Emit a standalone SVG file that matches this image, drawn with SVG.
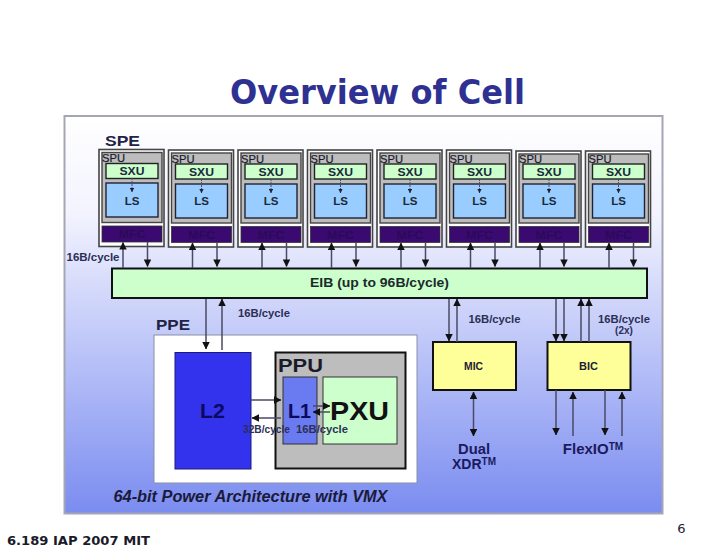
<svg xmlns="http://www.w3.org/2000/svg" width="728" height="546" viewBox="0 0 728 546">
<style>
text{font-family:"Liberation Sans",Arial,sans-serif;font-weight:bold;text-anchor:middle}
.t{font-size:10px;fill:#2b2f55}
.spu-t{font-size:10.5px;font-weight:normal;fill:#1a1a2a;stroke:#1a1a2a;stroke-width:.2px;text-anchor:start}
.n{font-size:11.5px;fill:#1a2a3a}
.m{font-size:10.5px;fill:#2a0a58}
.spe{fill:#fff;stroke:#444;stroke-width:1.6}
.spu{fill:#bdbdbd;stroke:#444;stroke-width:1.4}
.sxu{fill:#ccffcc;stroke:#222;stroke-width:1.4}
.ls{fill:#99ccff;stroke:#223;stroke-width:1.4}
.mfc{fill:#3a0a70;stroke:#333;stroke-width:.8}
.c line{stroke:#4a4a66;stroke-width:1.5;fill:none}
.a line{marker-end:url(#h)}
.a line.d{stroke-dasharray:2 1;stroke-width:1;marker-end:url(#s)}
</style>
<defs>
<linearGradient id="g" x1="0" y1="0" x2="0" y2="1"><stop offset="0" stop-color="#fff"/><stop offset=".25" stop-color="#f2f3fe"/><stop offset="1" stop-color="#7a8cf0"/></linearGradient>
<marker id="h" viewBox="0 0 8 8" refX="7.500" refY="4" markerWidth="7.500" markerHeight="7.500" markerUnits="userSpaceOnUse" orient="auto-start-reverse"><path d="M0 0L8 4L0 8z" fill="#111"/></marker>
<marker id="s" viewBox="0 0 8 8" refX="7.500" refY="4" markerWidth="4.500" markerHeight="4.500" markerUnits="userSpaceOnUse" orient="auto"><path d="M0 0L8 4L0 8z" fill="#223"/></marker>
</defs>
<rect width="728" height="546" fill="#fff"/>
<text x="377.500" y="103.500" font-size="34" fill="#2e3192" textLength="295" lengthAdjust="spacingAndGlyphs" style="font-family:'DejaVu Sans',sans-serif">Overview of Cell</text>
<rect id="panel" x="64.500" y="116" width="598" height="397.500" fill="url(#g)" stroke="#a4a6b6" stroke-width="2"/>
<g id="spe1"><rect class="spe" x="99" y="149.500" width="65" height="97"/><rect class="spu" x="102" y="152.500" width="60" height="70"/><rect class="sxu" x="106" y="163.500" width="52" height="15"/><rect class="ls" x="106" y="183" width="52" height="34"/><rect class="mfc" x="102" y="226" width="60" height="16"/><text class="spu-t" x="102" y="162" textLength="23" lengthAdjust="spacingAndGlyphs">SPU</text><text class="n" x="132" y="175" textLength="25" lengthAdjust="spacingAndGlyphs">SXU</text><text class="n" x="132" y="204.500">LS</text><text class="m" x="132" y="238" textLength="27" lengthAdjust="spacingAndGlyphs">MFC</text></g>
<g id="spe2"><rect class="spe" x="168.500" y="150" width="65" height="97"/><rect class="spu" x="171.500" y="153" width="60" height="70"/><rect class="sxu" x="175.500" y="164" width="52" height="15"/><rect class="ls" x="175.500" y="184" width="52" height="34"/><rect class="mfc" x="171.500" y="226.500" width="60" height="16"/><text class="spu-t" x="171.500" y="162.500" textLength="23" lengthAdjust="spacingAndGlyphs">SPU</text><text class="n" x="201.500" y="175.500" textLength="25" lengthAdjust="spacingAndGlyphs">SXU</text><text class="n" x="201.500" y="205">LS</text><text class="m" x="201.500" y="238.500" textLength="27" lengthAdjust="spacingAndGlyphs">MFC</text></g>
<g id="spe3"><rect class="spe" x="238" y="150" width="65" height="97"/><rect class="spu" x="241" y="153" width="60" height="70"/><rect class="sxu" x="245" y="164" width="52" height="15"/><rect class="ls" x="245" y="184" width="52" height="34"/><rect class="mfc" x="241" y="226.500" width="60" height="16"/><text class="spu-t" x="241" y="162.500" textLength="23" lengthAdjust="spacingAndGlyphs">SPU</text><text class="n" x="271" y="175.500" textLength="25" lengthAdjust="spacingAndGlyphs">SXU</text><text class="n" x="271" y="205">LS</text><text class="m" x="271" y="238.500" textLength="27" lengthAdjust="spacingAndGlyphs">MFC</text></g>
<g id="spe4"><rect class="spe" x="307.500" y="150" width="65" height="97"/><rect class="spu" x="310.500" y="153" width="60" height="70"/><rect class="sxu" x="314.500" y="164" width="52" height="15"/><rect class="ls" x="314.500" y="184" width="52" height="34"/><rect class="mfc" x="310.500" y="226.500" width="60" height="16"/><text class="spu-t" x="310.500" y="162.500" textLength="23" lengthAdjust="spacingAndGlyphs">SPU</text><text class="n" x="340.500" y="175.500" textLength="25" lengthAdjust="spacingAndGlyphs">SXU</text><text class="n" x="340.500" y="205">LS</text><text class="m" x="340.500" y="238.500" textLength="27" lengthAdjust="spacingAndGlyphs">MFC</text></g>
<g id="spe5"><rect class="spe" x="377" y="150" width="65" height="97"/><rect class="spu" x="380" y="153" width="60" height="70"/><rect class="sxu" x="384" y="164" width="52" height="15"/><rect class="ls" x="384" y="184" width="52" height="34"/><rect class="mfc" x="380" y="226.500" width="60" height="16"/><text class="spu-t" x="380" y="162.500" textLength="23" lengthAdjust="spacingAndGlyphs">SPU</text><text class="n" x="410" y="175.500" textLength="25" lengthAdjust="spacingAndGlyphs">SXU</text><text class="n" x="410" y="205">LS</text><text class="m" x="410" y="238.500" textLength="27" lengthAdjust="spacingAndGlyphs">MFC</text></g>
<g id="spe6"><rect class="spe" x="446.500" y="150" width="65" height="97"/><rect class="spu" x="449.500" y="153" width="60" height="70"/><rect class="sxu" x="453.500" y="164" width="52" height="15"/><rect class="ls" x="453.500" y="184" width="52" height="34"/><rect class="mfc" x="449.500" y="226.500" width="60" height="16"/><text class="spu-t" x="449.500" y="162.500" textLength="23" lengthAdjust="spacingAndGlyphs">SPU</text><text class="n" x="479.500" y="175.500" textLength="25" lengthAdjust="spacingAndGlyphs">SXU</text><text class="n" x="479.500" y="205">LS</text><text class="m" x="479.500" y="238.500" textLength="27" lengthAdjust="spacingAndGlyphs">MFC</text></g>
<g id="spe7"><rect class="spe" x="516" y="151" width="65" height="96"/><rect class="spu" x="519" y="154" width="60" height="69"/><rect class="sxu" x="523" y="164" width="52" height="15"/><rect class="ls" x="523" y="184" width="52" height="34"/><rect class="mfc" x="519" y="226.500" width="60" height="16"/><text class="spu-t" x="519" y="162.500" textLength="23" lengthAdjust="spacingAndGlyphs">SPU</text><text class="n" x="549" y="175.500" textLength="25" lengthAdjust="spacingAndGlyphs">SXU</text><text class="n" x="549" y="205">LS</text><text class="m" x="549" y="238.500" textLength="27" lengthAdjust="spacingAndGlyphs">MFC</text></g>
<g id="spe8"><rect class="spe" x="585.500" y="151" width="65" height="96"/><rect class="spu" x="588.500" y="154" width="60" height="69"/><rect class="sxu" x="592.500" y="164" width="52" height="15"/><rect class="ls" x="592.500" y="184" width="52" height="34"/><rect class="mfc" x="588.500" y="226.500" width="60" height="16"/><text class="spu-t" x="588.500" y="162.500" textLength="23" lengthAdjust="spacingAndGlyphs">SPU</text><text class="n" x="618.500" y="175.500" textLength="25" lengthAdjust="spacingAndGlyphs">SXU</text><text class="n" x="618.500" y="205">LS</text><text class="m" x="618.500" y="238.500" textLength="27" lengthAdjust="spacingAndGlyphs">MFC</text></g>
<text x="122.500" y="146" font-size="14.500" fill="#222244" textLength="35" lengthAdjust="spacingAndGlyphs">SPE</text>
<g id="eib"><rect x="112" y="268.500" width="535" height="29.500" fill="#ccffcc" stroke="#111" stroke-width="2"/><text x="379.500" y="287" font-size="12.500" fill="#1a2a2a" textLength="139" lengthAdjust="spacingAndGlyphs">EIB (up to 96B/cycle)</text></g>
<text x="173" y="330" font-size="15.500" fill="#222244" textLength="34" lengthAdjust="spacingAndGlyphs">PPE</text>
<g id="ppe"><rect x="154" y="335" width="263" height="148" fill="#fff" stroke="#8a8fa8" stroke-width="1"/></g>
<g id="l2"><rect x="175" y="352.500" width="76" height="116.500" fill="#3333ee" stroke="#1a1a80" stroke-width="1"/><text x="212.500" y="418" font-size="19.500" fill="#0a0a60" textLength="25" lengthAdjust="spacingAndGlyphs">L2</text></g>
<g id="ppu"><rect x="275.500" y="352.500" width="130" height="116" fill="#bdbdbd" stroke="#111" stroke-width="2"/><text x="300.500" y="372" font-size="19" fill="#1a1a2a" textLength="45" lengthAdjust="spacingAndGlyphs">PPU</text></g>
<g id="l1"><rect x="283" y="377" width="34" height="67" fill="#6a7af0" stroke="#333" stroke-width="1"/></g>
<g id="pxu"><rect x="323" y="377" width="74" height="67" fill="#ccffcc" stroke="#333" stroke-width="1"/><text x="359.500" y="420" font-size="26" fill="#111" textLength="59" lengthAdjust="spacingAndGlyphs">PXU</text></g>
<text x="299.500" y="418" font-size="19.500" fill="#0a0a60" textLength="23" lengthAdjust="spacingAndGlyphs">L1</text>
<g id="mic"><rect x="433" y="342" width="83" height="48" fill="#ffff99" stroke="#111" stroke-width="2"/><text x="473.500" y="370" font-size="10" fill="#223" textLength="19" lengthAdjust="spacingAndGlyphs">MIC</text></g>
<g id="bic"><rect x="547.500" y="342" width="83" height="48" fill="#ffff99" stroke="#111" stroke-width="2"/><text x="588.500" y="370" font-size="10" fill="#223" textLength="19" lengthAdjust="spacingAndGlyphs">BIC</text></g>
<g id="connectors" class="c a">
<line x1="123" y1="268" x2="123" y2="242.500"/><line x1="147.500" y1="242" x2="147.500" y2="266.500"/>
<line x1="192.500" y1="268" x2="192.500" y2="243"/><line x1="217" y1="243" x2="217" y2="266.500"/>
<line x1="262" y1="268" x2="262" y2="243"/><line x1="286.500" y1="243" x2="286.500" y2="266.500"/>
<line x1="331.500" y1="268" x2="331.500" y2="243"/><line x1="356" y1="243" x2="356" y2="266.500"/>
<line x1="401" y1="268" x2="401" y2="243"/><line x1="425.500" y1="243" x2="425.500" y2="266.500"/>
<line x1="470.500" y1="268" x2="470.500" y2="243"/><line x1="495" y1="243" x2="495" y2="266.500"/>
<line x1="540" y1="268" x2="540" y2="243"/><line x1="564" y1="243" x2="564" y2="266.500"/>
<line x1="609" y1="268" x2="609" y2="243"/><line x1="633.500" y1="243" x2="633.500" y2="266.500"/>
<line class="d" x1="132" y1="178" x2="132" y2="192"/><line class="d" x1="201.500" y1="179" x2="201.500" y2="193"/><line class="d" x1="271" y1="179" x2="271" y2="193"/><line class="d" x1="340.500" y1="179" x2="340.500" y2="193"/><line class="d" x1="410" y1="179" x2="410" y2="193"/><line class="d" x1="479.500" y1="179" x2="479.500" y2="193"/><line class="d" x1="549" y1="179" x2="549" y2="193"/><line class="d" x1="618.500" y1="179" x2="618.500" y2="193"/>
<line x1="206" y1="299" x2="206" y2="349"/><line x1="222" y1="350" x2="222" y2="299"/>
<line x1="251" y1="400" x2="281" y2="400"/><line x1="281" y1="418" x2="252" y2="418"/>
<line x1="313" y1="406" x2="330" y2="406"/><line x1="330" y1="412" x2="313" y2="412"/>
<line x1="449" y1="299" x2="449" y2="341"/><line x1="457" y1="342" x2="457" y2="299"/>
<line x1="556" y1="299" x2="556" y2="341"/><line x1="564" y1="299" x2="564" y2="341"/>
<line x1="581" y1="342" x2="581" y2="299"/><line x1="589" y1="342" x2="589" y2="299"/>
<line x1="473.500" y1="436" x2="473.500" y2="392" marker-start="url(#h)"/>
<line x1="556" y1="390" x2="556" y2="435"/><line x1="573" y1="436" x2="573" y2="392"/>
<line x1="605" y1="390" x2="605" y2="435"/><line x1="622" y1="436" x2="622" y2="392"/>
</g>
<text class="t" x="93" y="261" textLength="53" lengthAdjust="spacingAndGlyphs">16B/cycle</text>
<text class="t" x="264" y="317" textLength="52" lengthAdjust="spacingAndGlyphs">16B/cycle</text>
<text class="t" x="494.500" y="323" textLength="52" lengthAdjust="spacingAndGlyphs">16B/cycle</text>
<text class="t" x="624" y="323" textLength="52" lengthAdjust="spacingAndGlyphs">16B/cycle</text>
<text class="t" x="624" y="334">(2x)</text>
<text class="t" x="266.500" y="433" textLength="47" lengthAdjust="spacingAndGlyphs">32B/cycle</text>
<text class="t" x="322" y="433" textLength="52" lengthAdjust="spacingAndGlyphs">16B/cycle</text>
<text x="474" y="454" font-size="14" fill="#1a1a60" textLength="32" lengthAdjust="spacingAndGlyphs">Dual</text>
<text x="474" y="469" font-size="14" fill="#1a1a60">XDR<tspan font-size="10" dy="-4">TM</tspan></text>
<text x="593" y="454" font-size="15" fill="#1a1a60">FlexIO<tspan font-size="10" dy="-4">TM</tspan></text>
<text x="250.500" y="502" font-size="16" font-style="italic" fill="#1a1a3a" textLength="274" lengthAdjust="spacingAndGlyphs">64-bit Power Architecture with VMX</text>
<text x="681.500" y="533" font-size="13" style="font-weight:normal;font-family:'DejaVu Sans',sans-serif" fill="#223">6</text>
<text x="78.500" y="544.500" font-size="13" style="font-family:'DejaVu Sans',sans-serif" fill="#1a1a2a" textLength="143" lengthAdjust="spacingAndGlyphs">6.189 IAP 2007 MIT</text>
</svg>
